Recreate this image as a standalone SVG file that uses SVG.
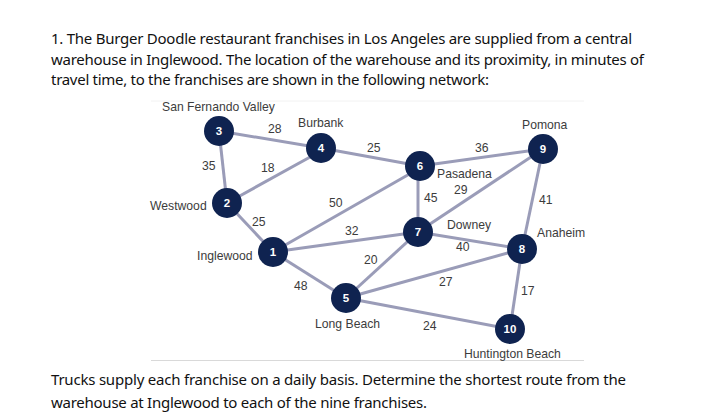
<svg xmlns="http://www.w3.org/2000/svg" width="712" height="418" viewBox="0 0 712 418">
<style>
.t{font-family:"Noto Sans","Liberation Sans",sans-serif;font-size:15px;fill:#111}
.l{font-family:"Liberation Sans",Arial,sans-serif;font-size:12.200px;fill:#3c3c3c}
.n{font-family:"Liberation Sans",Arial,sans-serif;font-size:11.500px;font-weight:bold;fill:#fff;text-anchor:middle}
.c{fill:#0f2350}
#connectors line{stroke:#9a9cb8;stroke-width:3}
</style>
<rect width="712" height="418" fill="#fff"/>
<line x1="151" y1="101" x2="584" y2="101" stroke="#f2f2f2"/>
<line x1="151" y1="360.500" x2="584" y2="360.500" stroke="#d9d9d9"/>
<g id="text">
<text class="t" x="51" y="44" textLength="581">1. The Burger Doodle restaurant franchises in Los Angeles are supplied from a central</text>
<text class="t" x="51" y="64.500" textLength="593">warehouse in Inglewood. The location of the warehouse and its proximity, in minutes of</text>
<text class="t" x="51" y="85" textLength="438">travel time, to the franchises are shown in the following network:</text>
<text class="t" x="51" y="385" textLength="575">Trucks supply each franchise on a daily basis. Determine the shortest route from the</text>
<text class="t" x="51" y="408" textLength="376">warehouse at Inglewood to each of the nine franchises.</text>
</g>
<g id="connectors">
<line x1="219" y1="131" x2="321" y2="148"/>
<line x1="219" y1="131" x2="227" y2="203"/>
<line x1="227" y1="203" x2="321" y2="151"/>
<line x1="227" y1="203" x2="273" y2="252"/>
<line x1="321" y1="148" x2="420" y2="166"/>
<line x1="273" y1="252" x2="420" y2="168"/>
<line x1="273" y1="252" x2="418" y2="232"/>
<line x1="273" y1="252" x2="346" y2="298"/>
<line x1="420" y1="166" x2="543" y2="149"/>
<line x1="418" y1="166" x2="418" y2="232"/>
<line x1="418" y1="232" x2="543" y2="149"/>
<line x1="418" y1="232" x2="522" y2="249"/>
<line x1="418" y1="232" x2="346" y2="298"/>
<line x1="543" y1="149" x2="522" y2="249"/>
<line x1="346" y1="298" x2="522" y2="249"/>
<line x1="346" y1="298" x2="510" y2="329"/>
<line x1="522" y1="249" x2="510" y2="329"/>
</g>
<g id="edge-labels">
<text class="l" x="268" y="133">28</text>
<text class="l" x="202" y="170">35</text>
<text class="l" x="261" y="172">18</text>
<text class="l" x="252" y="226">25</text>
<text class="l" x="367" y="152">25</text>
<text class="l" x="329" y="207">50</text>
<text class="l" x="345" y="235">32</text>
<text class="l" x="364" y="264">20</text>
<text class="l" x="294" y="290">48</text>
<text class="l" x="475" y="152">36</text>
<text class="l" x="454" y="194">29</text>
<text class="l" x="424" y="202">45</text>
<text class="l" x="539" y="204">41</text>
<text class="l" x="456" y="251">40</text>
<text class="l" x="439" y="286">27</text>
<text class="l" x="521" y="295">17</text>
<text class="l" x="423" y="330">24</text>
</g>
<g id="node1"><circle class="c" cx="273" cy="252" r="15"/><text class="n" x="273" y="256">1</text><text class="l" x="197" y="260">Inglewood</text></g>
<g id="node2"><circle class="c" cx="227" cy="203" r="15"/><text class="n" x="227" y="207">2</text><text class="l" x="150" y="210">Westwood</text></g>
<g id="node3"><circle class="c" cx="219" cy="131" r="15"/><text class="n" x="219" y="135">3</text><text class="l" x="162" y="111">San Fernando Valley</text></g>
<g id="node4"><circle class="c" cx="321" cy="148" r="15"/><text class="n" x="321" y="152">4</text><text class="l" x="298" y="127">Burbank</text></g>
<g id="node5"><circle class="c" cx="346" cy="298" r="15"/><text class="n" x="346" y="302">5</text><text class="l" x="315" y="328">Long Beach</text></g>
<g id="node6"><circle class="c" cx="420" cy="166" r="15"/><text class="n" x="420" y="170">6</text><text class="l" x="437" y="178">Pasadena</text></g>
<g id="node7"><circle class="c" cx="418" cy="232" r="15"/><text class="n" x="418" y="236">7</text><text class="l" x="447" y="229">Downey</text></g>
<g id="node8"><circle class="c" cx="522" cy="249" r="15"/><text class="n" x="522" y="253">8</text><text class="l" x="537" y="237">Anaheim</text></g>
<g id="node9"><circle class="c" cx="543" cy="149" r="15"/><text class="n" x="543" y="153">9</text><text class="l" x="522" y="129">Pomona</text></g>
<g id="node10"><circle class="c" cx="510" cy="329" r="15"/><text class="n" x="510" y="333">10</text><text class="l" x="464" y="358">Huntington Beach</text></g>
</svg>
